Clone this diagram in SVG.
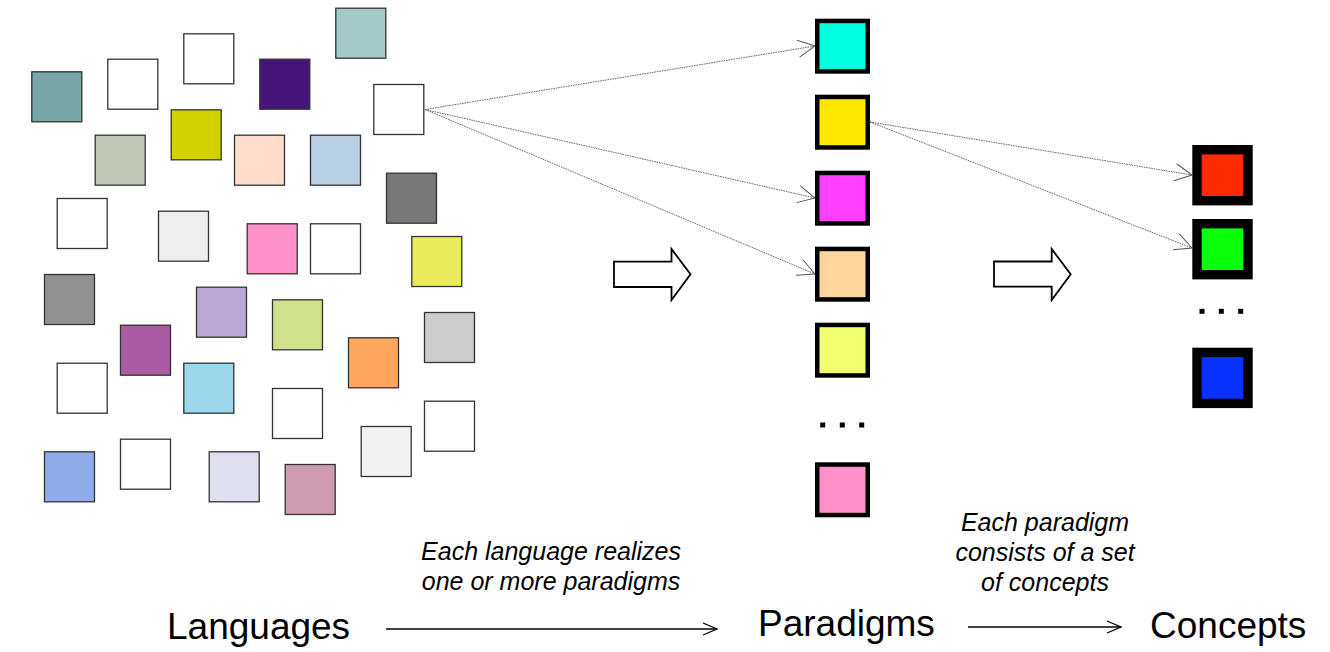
<svg xmlns="http://www.w3.org/2000/svg" width="1330" height="652" viewBox="0 0 1330 652">
<defs>
<style>
.lang{stroke:#333;stroke-width:1.3}
.par{stroke:#000;stroke-width:4.5}
.con{stroke:#000;stroke-width:9.4}
.dot{fill:#000}
.link{fill:none;stroke:#555;stroke-width:0.9;stroke-dasharray:1.6,0.9}
.flow{fill:none;stroke:#000;stroke-width:1.3}
.big{fill:#fff;stroke:#000;stroke-width:1.8;stroke-linejoin:miter}
.title{font-family:"Liberation Sans",Arial,sans-serif;font-size:37px;fill:#000}
.note{font-family:"Liberation Sans",Arial,sans-serif;font-size:25px;font-style:italic;fill:#000;text-anchor:middle}
</style>
<marker id="openHead" markerUnits="userSpaceOnUse" markerWidth="40" markerHeight="40" viewBox="-20 -20 40 40" refX="0" refY="0" orient="auto">
<path d="M-17,-8.6 L0,0 L-17,8.6" fill="none" stroke="#555" stroke-width="1"/>
</marker>
<marker id="flowHead" markerUnits="userSpaceOnUse" markerWidth="40" markerHeight="40" viewBox="-20 -20 40 40" refX="0" refY="0" orient="auto">
<path d="M-14,-6 L0,0 L-14,6" fill="none" stroke="#000" stroke-width="1.3"/>
</marker>
</defs>
<rect width="1330" height="652" fill="#fff"/>

<g id="connectors">
<line class="link" x1="425" y1="109.5" x2="815" y2="46" marker-end="url(#openHead)"/>
<line class="link" x1="425" y1="109.5" x2="815" y2="198" marker-end="url(#openHead)"/>
<line class="link" x1="425" y1="109.5" x2="815" y2="274" marker-end="url(#openHead)"/>
<line class="link" x1="870" y1="122" x2="1192" y2="175" marker-end="url(#openHead)"/>
<line class="link" x1="870" y1="122" x2="1192" y2="248" marker-end="url(#openHead)"/>
<line class="flow" x1="386" y1="629" x2="717" y2="629" marker-end="url(#flowHead)"/>
<line class="flow" x1="968" y1="627" x2="1121" y2="627" marker-end="url(#flowHead)"/>
</g>

<g id="languages">
<rect id="l1" class="lang" x="31.8" y="71.8" width="50" height="50" fill="#77a7a7"/>
<rect id="l2" class="lang" x="107.8" y="59.2" width="50" height="50" fill="#ffffff"/>
<rect id="l3" class="lang" x="183.8" y="33.8" width="50" height="50" fill="#ffffff"/>
<rect id="l4" class="lang" x="259.8" y="59.2" width="50" height="50" fill="#46157a"/>
<rect id="l5" class="lang" x="335.8" y="8.2" width="50" height="50" fill="#a3c9c9"/>
<rect id="l6" class="lang" x="373.8" y="84.5" width="50" height="50" fill="#ffffff"/>
<rect id="l7" class="lang" x="95.2" y="135.2" width="50" height="50" fill="#c2c8b7"/>
<rect id="l8" class="lang" x="171.2" y="109.8" width="50" height="50" fill="#d4d100"/>
<rect id="l9" class="lang" x="234.5" y="135.2" width="50" height="50" fill="#ffdccc"/>
<rect id="l10" class="lang" x="310.5" y="135.2" width="50" height="50" fill="#b9cfe3"/>
<rect id="l11" class="lang" x="386.5" y="173.2" width="50" height="50" fill="#787878"/>
<rect id="l12" class="lang" x="57.2" y="198.5" width="50" height="50" fill="#ffffff"/>
<rect id="l13" class="lang" x="158.5" y="211.2" width="50" height="50" fill="#eeeeee"/>
<rect id="l14" class="lang" x="247.2" y="223.8" width="50" height="50" fill="#ff91c9"/>
<rect id="l15" class="lang" x="310.5" y="223.8" width="50" height="50" fill="#ffffff"/>
<rect id="l16" class="lang" x="411.8" y="236.5" width="50" height="50" fill="#e8ec5a"/>
<rect id="l17" class="lang" x="44.5" y="274.5" width="50" height="50" fill="#919191"/>
<rect id="l18" class="lang" x="196.5" y="287.2" width="50" height="50" fill="#baa9d6"/>
<rect id="l19" class="lang" x="272.5" y="299.8" width="50" height="50" fill="#d0e18a"/>
<rect id="l20" class="lang" x="424.5" y="312.5" width="50" height="50" fill="#cccccc"/>
<rect id="l21" class="lang" x="120.5" y="325.2" width="50" height="50" fill="#a95ca2"/>
<rect id="l22" class="lang" x="348.5" y="337.8" width="50" height="50" fill="#ffa75c"/>
<rect id="l23" class="lang" x="57.2" y="363.2" width="50" height="50" fill="#ffffff"/>
<rect id="l24" class="lang" x="183.8" y="363.2" width="50" height="50" fill="#9bd7ea"/>
<rect id="l25" class="lang" x="272.5" y="388.5" width="50" height="50" fill="#ffffff"/>
<rect id="l26" class="lang" x="424.5" y="401.2" width="50" height="50" fill="#ffffff"/>
<rect id="l27" class="lang" x="361.2" y="426.5" width="50" height="50" fill="#f2f2f2"/>
<rect id="l28" class="lang" x="44.5" y="451.8" width="50" height="50" fill="#8fabe9"/>
<rect id="l29" class="lang" x="120.5" y="439.2" width="50" height="50" fill="#ffffff"/>
<rect id="l30" class="lang" x="209.2" y="451.8" width="50" height="50" fill="#dfdfef"/>
<rect id="l31" class="lang" x="285.2" y="464.5" width="50" height="50" fill="#cf9bb0"/>
</g>

<g id="arrow-languages-paradigms">
<path class="big" d="M614,261.7 L671.5,261.7 L671.5,249 L690.5,274.3 L671.5,300 L671.5,287 L614,287 Z"/>
</g>
<g id="arrow-paradigms-concepts">
<path class="big" d="M994,261.5 L1051.7,261.5 L1051.7,249 L1070.7,274.3 L1051.7,300 L1051.7,286.7 L994,286.7 Z"/>
</g>

<g id="paradigms">
<rect id="p1" class="par" x="817.25" y="20.95" width="50.5" height="50.5" fill="#00ffe1"/>
<rect id="p2" class="par" x="817.25" y="96.95" width="50.5" height="50.5" fill="#ffe800"/>
<rect id="p3" class="par" x="817.25" y="172.95" width="50.5" height="50.5" fill="#ff40ff"/>
<rect id="p4" class="par" x="817.25" y="248.95" width="50.5" height="50.5" fill="#ffd59e"/>
<rect id="p5" class="par" x="817.25" y="324.95" width="50.5" height="50.5" fill="#f0ff6e"/>
<g id="p-dots">
<rect class="dot" x="820.2" y="422.5" width="5" height="5"/>
<rect class="dot" x="839.8" y="422.5" width="5" height="5"/>
<rect class="dot" x="859.2" y="422.5" width="5" height="5"/>
</g>
<rect id="p6" class="par" x="817.25" y="464.55" width="50.5" height="50.5" fill="#ff91c8"/>
</g>

<g id="concepts">
<rect id="c1" class="con" x="1197" y="149.7" width="51" height="51" fill="#ff2a00"/>
<rect id="c2" class="con" x="1197" y="223.7" width="51" height="51" fill="#0aff0a"/>
<g id="c-dots">
<rect class="dot" x="1199.5" y="308.8" width="5" height="5"/>
<rect class="dot" x="1218.8" y="308.8" width="5" height="5"/>
<rect class="dot" x="1238.2" y="308.8" width="5" height="5"/>
</g>
<rect id="c3" class="con" x="1197" y="352.4" width="51" height="51" fill="#0a32ff"/>
</g>

<g id="labels">
<text class="title" x="167" y="639">Languages</text>
<text class="title" x="758" y="636">Paradigms</text>
<text class="title" x="1150" y="638">Concepts</text>
<text class="note" x="551" y="560">Each language realizes</text>
<text class="note" x="551" y="590">one or more paradigms</text>
<text class="note" x="1045" y="531">Each paradigm</text>
<text class="note" x="1045" y="561">consists of a set</text>
<text class="note" x="1045" y="591">of concepts</text>
</g>
</svg>
